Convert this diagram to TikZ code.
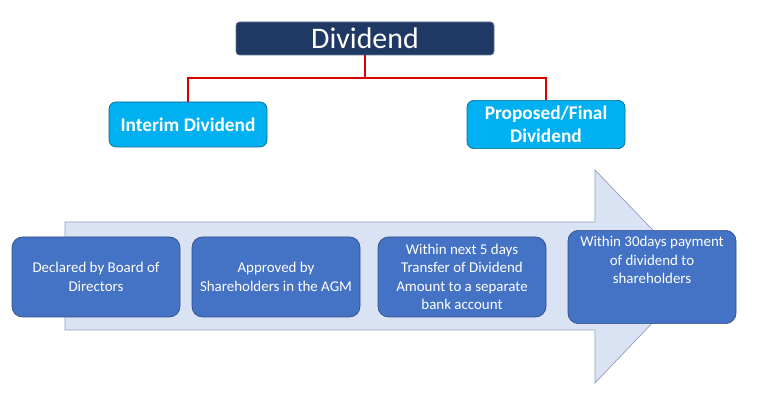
\documentclass[tikz,border=0pt]{standalone}
\usepackage{fontspec}
\setmainfont{Carlito}
\definecolor{navybox}{RGB}{31,56,100}
\definecolor{skybox}{RGB}{0,176,240}
\definecolor{stepblue}{RGB}{68,114,196}
\definecolor{arrowfill}{RGB}{218,227,243}
\definecolor{arrowline}{RGB}{143,160,190}
\begin{document}
\begin{tikzpicture}[x=0.02cm, y=-0.02cm,
    head/.style={draw=navybox!70, fill=navybox, rounded corners=2pt, text=white, font=\fontsize{17}{19}\selectfont},
    kind/.style={draw=skybox!60!black, fill=skybox, rounded corners=4pt, text=white, font=\bfseries\fontsize{11}{13}\selectfont, align=center},
    stage/.style={draw=stepblue!70!black, fill=stepblue, rounded corners=6pt, text=white, font=\fontsize{8.5}{10.5}\selectfont, align=center},
    link/.style={draw=red!85!black, thick}]

    % frame
    \useasboundingbox (0,0) rectangle (768,404);

    % big arrow
    \draw[fill=arrowfill, draw=arrowline] (65,222) -- (595,222) -- (595,170) -- (697,276)
        -- (595,383) -- (595,330) -- (65,330) -- cycle;

    % headings
    \node[head, minimum width=258*0.02cm, minimum height=33*0.02cm] (div) at (365,38.5) {Dividend};
    \node[kind, minimum width=158*0.02cm, minimum height=45*0.02cm] (interim) at (188,124.5) {Interim Dividend};
    \node[kind, minimum width=158*0.02cm, minimum height=45*0.02cm] (final) at (546,124.5) {Proposed/Final\\Dividend};

    \coordinate (split) at (365,78);
    \draw[link] (div.south) -- (split);
    \draw[link] (split) -| (interim.north);
    \draw[link] (split) -| (final.north);

    % steps
    \foreach \name/\cx/\txt in {declared/96/{Declared by Board of\\Directors},
                                approved/276/{Approved by\\Shareholders in the AGM},
                                transfer/462/{Within next 5 days\\Transfer of Dividend\\Amount to a separate\\bank account},
                                payment/652/{Within 30days payment\\of dividend to\\shareholders\\[9pt]}}
        \node[stage, minimum width=168*0.02cm, minimum height=80*0.02cm] (\name) at (\cx,277) {\txt};

\end{tikzpicture}
\end{document}
